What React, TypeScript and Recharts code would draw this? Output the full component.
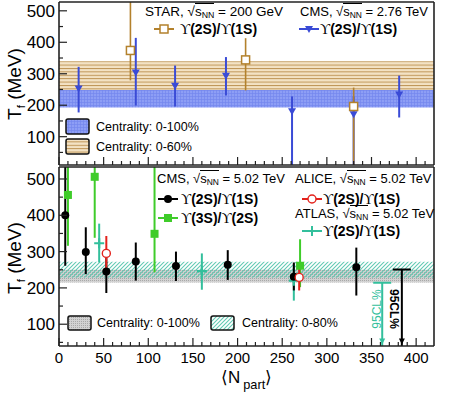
import { ScatterChart, Scatter, XAxis, YAxis, ReferenceArea, ErrorBar } from 'recharts';

// values: N_part, T_f (MeV), lower / upper error
const cms276Npart = [22, 86, 130, 187, 261, 330, 381];
const cms276Tf = [253, 304, 262, 294, 181, 171, 234];
const cms276Lo = [76, 105, 66, 63, 181, 171, 73];
const cms276Hi = [69, 110, 64, 59, 47, 57, 60];

const starNpart = [80, 209, 330];
const starTf = [374, 344, 196];
const starLo = [95, 97, 196];
const starHi = [200, 69, 60];

const cms502Npart = [7, 30, 53, 86, 131, 189, 263, 333];
const cms502Tf = [400, 299, 245, 273, 260, 264, 231, 257];
const cms502Lo = [139, 61, 59, 53, 41, 42, 38, 78];
const cms502Hi = [200, 68, 57, 52, 40, 40, 39, 54];

const cms3sNpart = [10, 40, 107, 270];
const cms3sTf = [456, 506, 349, 261];
const cms3sLo = [140, 168, 106, 59];
const cms3sHi = [150, 100, 250, 73];

const aliceNpart = [53, 269];
const aliceTf = [295, 229];
const aliceLo = [57, 36];
const aliceHi = [48, 25];

const atlasNpart = [45, 160, 263];
const atlasTf = [323, 246, 220];
const atlasLo = [53, 51, 55];
const atlasHi = [54, 49, 46];

// 95% CL upper limits (ATLAS, CMS) and where the arrows end
const limitNpart = [362, 384];
const limitTf = [214, 251];
const limitArrowTf = [44, 44];

// fitted T_f bands [low, high]
const band276 = [193, 248];
const band200 = [248, 340];
const band502Cms = [215, 250];
const band502Atlas = [228, 272];

const xTicks = [0, 10, 20, 30, 40, 50, 60, 70, 80, 90, 100, 110, 120, 130, 140, 150, 160, 170, 180, 190, 200, 210, 220, 230, 240, 250, 260, 270, 280, 290, 300, 310, 320, 330, 340, 350, 360, 370, 380, 390, 400, 410];
const yTicks = [50, 100, 150, 200, 250, 300, 350, 400, 450, 500];

const X_DOMAIN: [number, number] = [0, 420];
const TOP_DOMAIN: [number, number] = [10, 528];
const BOT_DOMAIN: [number, number] = [40, 533];

const BLUE = '#3a4bd6';
const BROWN = '#b3812c';
const GREEN = '#3fcc2a';
const RED = '#e3221c';
const TEAL = '#33bf9c';
const FONT = '"Liberation Sans", Arial, sans-serif';
const SERIF = '"Liberation Serif", "DejaVu Serif", serif';

// error bars stop at the frame, like the original
const rows = (xs: number[], ys: number[], lo: number[], hi: number[], dom: [number, number]) =>
  xs.map((x, i) => ({ x, y: ys[i], err: [Math.min(lo[i], ys[i] - dom[0]), Math.min(hi[i], dom[1] - ys[i])] }));

const triDown = (p: any) => (
  <path d={`M${p.cx - 4},${p.cy - 3} L${p.cx + 4},${p.cy - 3} L${p.cx},${p.cy + 4} Z`} fill={BLUE} />
);
const openSquare = (p: any) => (
  <rect x={p.cx - 4} y={p.cy - 4} width={8} height={8} fill="#fff" stroke={BROWN} strokeWidth={1.5} />
);
const dotBlack = (p: any) => <circle cx={p.cx} cy={p.cy} r={4} fill="#000" />;
const squareGreen = (p: any) => <rect x={p.cx - 4} y={p.cy - 4} width={8} height={8} fill={GREEN} />;
const openCircle = (p: any) => <circle cx={p.cx} cy={p.cy} r={4} fill="#fff" stroke={RED} strokeWidth={1.4} />;
const plusTeal = (p: any) => (
  <path d={`M${p.cx - 5},${p.cy} H${p.cx + 5} M${p.cx},${p.cy - 5} V${p.cy + 5}`} stroke={TEAL} strokeWidth={2.2} />
);
const capShape = (color: string) => (p: any) => (
  <line x1={p.cx - 9} x2={p.cx + 9} y1={p.cy} y2={p.cy} stroke={color} strokeWidth={2} />
);
const arrowShape = (color: string) => (p: any) => (
  <path d={`M${p.cx - 3},${p.cy - 6} L${p.cx + 3},${p.cy - 6} L${p.cx},${p.cy} Z`} fill={color} />
);

// y ticks: inward marks (long every 100, short every 50), labels every 100
const yTick = (p: any) => {
  const v = p.payload.value;
  const major = v % 100 === 0;
  return (
    <g>
      <line x1={p.x + 4} x2={p.x + 4 + (major ? 8 : 4)} y1={p.y} y2={p.y} stroke="#222" strokeWidth={1.2} />
      {major && (
        <text x={p.x} y={p.y} dy="0.355em" textAnchor="end" fontSize={17} fontFamily={FONT} fill="#000">{v}</text>
      )}
    </g>
  );
};

// x ticks: inward marks (long every 50, short every 10)
const xTick = (margin: number, labels: boolean) => (p: any) => {
  const v = p.payload.value;
  const major = v % 50 === 0;
  const base = p.y - margin;
  return (
    <g>
      <line x1={p.x} x2={p.x} y1={base} y2={base - (major ? 8 : 4)} stroke="#222" strokeWidth={1.2} />
      {labels && major && (
        <text x={p.x} y={p.y} dy="0.71em" textAnchor="middle" fontSize={15} fontFamily={FONT} fill="#000">{v}</text>
      )}
    </g>
  );
};

const Patterns = () => (
  <svg width={0} height={0} style={{ position: 'absolute' }}>
    <defs>
      <pattern id="blueGrid" patternUnits="userSpaceOnUse" width={3} height={3}>
        <rect width={3} height={3} fill="#8d9ef5" />
        <path d="M0,0.5 H3 M0.5,0 V3" stroke="#7486ee" strokeWidth={0.7} />
      </pattern>
      <pattern id="brownStripe" patternUnits="userSpaceOnUse" width={4} height={3.4}>
        <rect width={4} height={3.4} fill="#f3e2c4" />
        <path d="M0,0.5 H4" stroke="#b98c4a" strokeWidth={0.9} />
      </pattern>
      <pattern id="grayDots" patternUnits="userSpaceOnUse" width={2} height={2}>
        <rect width={2} height={2} fill="#d2d2d2" />
        <rect width={1} height={1} fill="#a8a8a8" />
      </pattern>
      <pattern id="tealHatch" patternUnits="userSpaceOnUse" width={4} height={4}>
        <path d="M-1,1 L1,-1 M0,4 L4,0 M3,5 L5,3" stroke="#62cab3" strokeWidth={1.1} />
      </pattern>
    </defs>
  </svg>
);

const frameAxes = (domainY: [number, number]) => [
  <XAxis key="xt" xAxisId="top" orientation="top" type="number" domain={X_DOMAIN} mirror tick={false} tickLine={false} axisLine={{ stroke: '#222', strokeWidth: 1.6 }} />,
  <YAxis key="yr" yAxisId="right" orientation="right" type="number" domain={domainY} mirror tick={false} tickLine={false} axisLine={{ stroke: '#222', strokeWidth: 1.6 }} />,
];

const yLabelAxis = (domainY: [number, number]) => (
  <YAxis dataKey="y" type="number" domain={domainY} allowDataOverflow ticks={yTicks} interval={0} width={59}
    tickLine={false} tickSize={0} tickMargin={4} axisLine={{ stroke: '#222', strokeWidth: 1.6 }} tick={yTick} />
);

const Sqrt = ({ name, val }: { name: string; val: string }) => (
  <span>
    {name}, √<span style={{ borderTop: '1px solid #000' }}>s<span style={{ fontSize: '0.65em', verticalAlign: '-0.25em', lineHeight: 1 }}>NN</span></span> = {val}
  </span>
);

const Ratio = ({ a, b }: { a: string; b: string }) => (
  <span style={{ fontWeight: 'bold' }}>
    <span style={{ fontFamily: SERIF, fontWeight: 'normal' }}>ϒ</span>({a})/
    <span style={{ fontFamily: SERIF, fontWeight: 'normal' }}>ϒ</span>({b})
  </span>
);

const abs = (left: number, top: number, extra: any = {}) => ({ position: 'absolute' as const, left, top, whiteSpace: 'nowrap' as const, lineHeight: 1, ...extra });

const Marker = ({ left, top, color, kind }: { left: number; top: number; color: string; kind: string }) => (
  <svg style={{ position: 'absolute', left, top }} width={22} height={12}>
    <line x1={1} x2={21} y1={6} y2={6} stroke={color} strokeWidth={2} />
    {kind === 'tri' && <path d="M7,3 L15,3 L11,10 Z" fill={color} />}
    {kind === 'osq' && <rect x={7} y={2} width={8} height={8} fill="#fff" stroke={color} strokeWidth={1.5} />}
    {kind === 'dot' && <circle cx={11} cy={6} r={4} fill={color} />}
    {kind === 'sq' && <rect x={7} y={2} width={8} height={8} fill={color} />}
    {kind === 'ocirc' && <circle cx={11} cy={6} r={4} fill="#fff" stroke={color} strokeWidth={1.4} />}
    {kind === 'plus' && <line x1={11} x2={11} y1={1} y2={11} stroke={color} strokeWidth={2} />}
  </svg>
);

const BandBox = ({ left, top, fill, w = 25, h = 17 }: { left: number; top: number; fill: string; w?: number; h?: number }) => (
  <svg style={{ position: 'absolute', left, top }} width={w} height={h}>
    <rect x={1} y={1} width={w - 2} height={h - 2} rx={2} fill="#fff" />
    <rect x={1} y={1} width={w - 2} height={h - 2} rx={2} fill={fill} stroke="#111" strokeWidth={1.5} />
  </svg>
);

export default function App() {
  return (
    <div style={{ position: 'absolute', left: 0, top: 0, width: 474, height: 395, background: '#fff', fontFamily: FONT, color: '#000' }}>
      <Patterns />

      <div style={{ position: 'absolute', left: 0, top: 0 }}>
        <ScatterChart width={474} height={166} margin={{ top: 2, right: 40, bottom: 0, left: 0 }}>
          <XAxis dataKey="x" type="number" domain={X_DOMAIN} ticks={xTicks} interval={0} height={1}
            tickSize={0} tickMargin={0} tickLine={false} axisLine={{ stroke: '#222', strokeWidth: 1.6 }} tick={xTick(0, false)} />
          {yLabelAxis(TOP_DOMAIN)}
          {frameAxes(TOP_DOMAIN)}
          <ReferenceArea y1={band200[0]} y2={band200[1]} fill="url(#brownStripe)" fillOpacity={1} stroke="none" ifOverflow="hidden" />
          <ReferenceArea y1={band276[0]} y2={band276[1]} fill="url(#blueGrid)" fillOpacity={1} stroke="none" ifOverflow="hidden" />
          <Scatter data={rows(cms276Npart, cms276Tf, cms276Lo, cms276Hi, TOP_DOMAIN)} shape={triDown} isAnimationActive={false}>
            <ErrorBar dataKey="err" direction="y" width={0} stroke={BLUE} strokeWidth={2} />
          </Scatter>
          <Scatter data={rows(starNpart, starTf, starLo, starHi, TOP_DOMAIN)} shape={openSquare} isAnimationActive={false}>
            <ErrorBar dataKey="err" direction="y" width={0} stroke={BROWN} strokeWidth={1.6} />
          </Scatter>
        </ScatterChart>
      </div>

      <div style={{ position: 'absolute', left: 0, top: 166 }}>
        <ScatterChart width={474} height={229} margin={{ top: 1, right: 40, bottom: 19, left: 0 }}>
          <XAxis dataKey="x" type="number" domain={X_DOMAIN} ticks={xTicks} interval={0} height={30}
            tickLine={false} tickSize={0} tickMargin={6} axisLine={{ stroke: '#222', strokeWidth: 1.6 }} tick={xTick(6, true)} />
          {yLabelAxis(BOT_DOMAIN)}
          {frameAxes(BOT_DOMAIN)}
          <ReferenceArea y1={band502Cms[0]} y2={band502Cms[1]} fill="url(#grayDots)" fillOpacity={1} stroke="none" ifOverflow="hidden" />
          <ReferenceArea y1={band502Atlas[0]} y2={band502Atlas[1]} fill="url(#tealHatch)" fillOpacity={1} stroke="none" ifOverflow="hidden" />
          <Scatter data={rows(cms3sNpart, cms3sTf, cms3sLo, cms3sHi, BOT_DOMAIN)} shape={squareGreen} isAnimationActive={false}>
            <ErrorBar dataKey="err" direction="y" width={0} stroke={GREEN} strokeWidth={2} />
          </Scatter>
          <Scatter data={rows(atlasNpart, atlasTf, atlasLo, atlasHi, BOT_DOMAIN)} shape={plusTeal} isAnimationActive={false}>
            <ErrorBar dataKey="err" direction="y" width={0} stroke={TEAL} strokeWidth={2} />
          </Scatter>
          <Scatter data={rows(cms502Npart, cms502Tf, cms502Lo, cms502Hi, BOT_DOMAIN)} shape={dotBlack} isAnimationActive={false}>
            <ErrorBar dataKey="err" direction="y" width={0} stroke="#000" strokeWidth={2} />
          </Scatter>
          <Scatter data={rows(aliceNpart, aliceTf, aliceLo, aliceHi, BOT_DOMAIN)} shape={openCircle} isAnimationActive={false}>
            <ErrorBar dataKey="err" direction="y" width={0} stroke={RED} strokeWidth={2} />
          </Scatter>
          <Scatter data={[{ x: limitNpart[0], y: limitTf[0], err: [limitTf[0] - BOT_DOMAIN[0], 0] }]} shape={capShape(TEAL)} isAnimationActive={false}>
            <ErrorBar dataKey="err" direction="y" width={0} stroke={TEAL} strokeWidth={2} />
          </Scatter>
          <Scatter data={[{ x: limitNpart[1], y: limitTf[1], err: [limitTf[1] - BOT_DOMAIN[0], 0] }]} shape={capShape('#000')} isAnimationActive={false}>
            <ErrorBar dataKey="err" direction="y" width={0} stroke="#000" strokeWidth={2} />
          </Scatter>
          <Scatter data={[{ x: limitNpart[0], y: limitArrowTf[0] }]} shape={arrowShape(TEAL)} isAnimationActive={false} />
          <Scatter data={[{ x: limitNpart[1], y: limitArrowTf[1] }]} shape={arrowShape('#000')} isAnimationActive={false} />
        </ScatterChart>
      </div>

      {/* top panel annotations */}
      <div style={abs(145, 5, { fontSize: 13.5 })}><Sqrt name="STAR" val="200 GeV" /></div>
      <Marker left={153} top={23} color={BROWN} kind="osq" />
      <div style={abs(180, 22, { fontSize: 14 })}><Ratio a="2S" b="1S" /></div>
      <div style={abs(300, 5, { fontSize: 13 })}><Sqrt name="CMS" val="2.76 TeV" /></div>
      <Marker left={298} top={23} color={BLUE} kind="tri" />
      <div style={abs(320, 22, { fontSize: 14 })}><Ratio a="2S" b="1S" /></div>

      <BandBox left={65} top={118} fill="url(#blueGrid)" />
      <div style={abs(96, 121, { fontSize: 12.5 })}>Centrality: 0-100%</div>
      <BandBox left={65} top={138} fill="url(#brownStripe)" />
      <div style={abs(96, 141, { fontSize: 12.5 })}>Centrality: 0-60%</div>

      {/* bottom panel annotations */}
      <div style={abs(157, 172, { fontSize: 13 })}><Sqrt name="CMS" val="5.02 TeV" /></div>
      <Marker left={157} top={193} color="#000" kind="dot" />
      <div style={abs(181, 192, { fontSize: 14 })}><Ratio a="2S" b="1S" /></div>
      <Marker left={157} top={212} color={GREEN} kind="sq" />
      <div style={abs(181, 211, { fontSize: 14 })}><Ratio a="3S" b="2S" /></div>
      <div style={abs(295, 172, { fontSize: 13 })}><Sqrt name="ALICE" val="5.02 TeV" /></div>
      <Marker left={301} top={193} color={RED} kind="ocirc" />
      <div style={abs(323, 192, { fontSize: 14 })}><Ratio a="2S" b="1S" /></div>
      <div style={abs(295, 207, { fontSize: 13 })}><Sqrt name="ATLAS" val="5.02 TeV" /></div>
      <Marker left={301} top={225} color={TEAL} kind="plus" />
      <div style={abs(323, 224, { fontSize: 14 })}><Ratio a="2S" b="1S" /></div>

      <BandBox left={67} top={315} fill="url(#grayDots)" h={16} />
      <div style={abs(97, 317, { fontSize: 12.5 })}>Centrality: 0-100%</div>
      <BandBox left={210} top={315} fill="url(#tealHatch)" h={16} />
      <div style={abs(242, 317, { fontSize: 12.5 })}>Centrality: 0-80%</div>

      <div style={abs(377, 309, { fontSize: 12, color: TEAL, transform: 'translate(-50%,-50%) rotate(-90deg)' })}>95CL%</div>
      <div style={abs(394, 309, { fontSize: 12, fontWeight: 'bold', transform: 'translate(-50%,-50%) rotate(90deg)' })}>95CL%</div>

      {/* axis titles */}
      <div style={abs(16, 84, { fontSize: 19, transform: 'translate(-50%,-50%) rotate(-90deg)' })}>
        T<span style={{ fontSize: '0.6em', verticalAlign: '-0.35em' }}>f</span> (MeV)
      </div>
      <div style={abs(16, 258, { fontSize: 19, transform: 'translate(-50%,-50%) rotate(-90deg)' })}>
        T<span style={{ fontSize: '0.6em', verticalAlign: '-0.35em' }}>f</span> (MeV)
      </div>
      <div style={abs(221, 369, { fontSize: 17 })}>
        ⟨N<span style={{ fontSize: '0.75em', verticalAlign: '-0.5em', marginLeft: 3 }}>part</span>⟩
      </div>
    </div>
  );
}
